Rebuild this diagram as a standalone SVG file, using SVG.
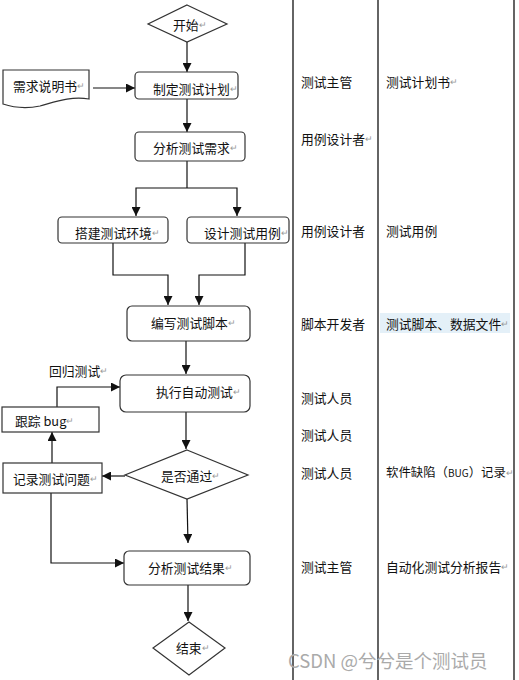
<svg xmlns="http://www.w3.org/2000/svg" width="519" height="680" viewBox="0 0 519 680">
<defs>
<marker id="ah" viewBox="0 0 10 10" refX="10" refY="5" markerWidth="9" markerHeight="9" markerUnits="userSpaceOnUse" orient="auto">
<path d="M0,0 L10,5 L0,10 Z" fill="#111"/>
</marker>
<style>
.box{fill:#fff;stroke:#333;stroke-width:1.2}
.ln{fill:none;stroke:#111;stroke-width:1.2}
.ar{fill:none;stroke:#111;stroke-width:1.2;marker-end:url(#ah)}
.col{stroke:#111;stroke-width:1.3}
text{font-family:"Noto Sans CJK SC","Noto Sans",sans-serif;font-size:12.8px;fill:#111;dominant-baseline:central}
.rm{fill:#999;font-size:9px}
.bug{font-size:12.4px}
.sm{font-size:10px}
.wm{fill:#aaa;font-size:18.5px}
</style>
</defs>
<rect width="519" height="680" fill="#fff"/>

<g id="columns">
<line class="col" x1="293" y1="0" x2="293" y2="680"/>
<line class="col" x1="378" y1="0" x2="378" y2="680"/>
<line class="col" x1="514" y1="0" x2="514" y2="680"/>
<rect x="380" y="313" width="130" height="20" fill="#e4f0f8"/>
</g>

<g id="connectors">
<line class="ar" x1="187" y1="42" x2="187" y2="72"/>
<line class="ar" x1="93" y1="88" x2="135" y2="88"/>
<line class="ar" x1="187" y1="99" x2="187" y2="132"/>
<polyline class="ln" points="187,161 187,188"/>
<polyline class="ar" points="187,188 136,188 136,216"/>
<polyline class="ar" points="187,188 237,188 237,216"/>
<polyline class="ar" points="113,243 113,275 168,275 168,305"/>
<polyline class="ar" points="245,243 245,275 199,275 199,305"/>
<line class="ar" x1="186" y1="341" x2="186" y2="374"/>
<polyline class="ar" points="57,407 57,387 120,387"/>
<line class="ar" x1="186" y1="412" x2="186" y2="449"/>
<line class="ar" x1="125" y1="476" x2="102" y2="476"/>
<line class="ar" x1="52" y1="463" x2="52" y2="432"/>
<polyline class="ar" points="51,493 51,563 124,563"/>
<line class="ar" x1="187" y1="499" x2="188" y2="543"/>
<line class="ar" x1="188" y1="585" x2="188" y2="621"/>
</g>

<g id="start">
<polygon class="box" points="187,5 227,24 187,42 148,24"/>
<text x="173" y="24">开始<tspan class="rm">↵</tspan></text>
</g>

<g id="req-doc">
<path class="box" d="M3,70 L89,70 L89,99 C70,96 55,102 40,106 C25,109 12,107 3,104 Z"/>
<text x="13" y="85">需求说明书<tspan class="rm">↵</tspan></text>
</g>

<g id="plan">
<rect class="box" x="135" y="72" width="103" height="27" rx="4"/>
<text x="153" y="88">制定测试计划<tspan class="rm">↵</tspan></text>
</g>

<g id="analyze-req">
<rect class="box" x="135" y="132" width="110" height="29" rx="4"/>
<text x="153" y="147">分析测试需求<tspan class="rm">↵</tspan></text>
</g>

<g id="env">
<rect class="box" x="58" y="217" width="110" height="26" rx="4"/>
<text x="75" y="232">搭建测试环境<tspan class="rm">↵</tspan></text>
</g>

<g id="cases">
<rect class="box" x="187" y="217" width="102" height="26" rx="4"/>
<text x="204" y="232">设计测试用例<tspan class="rm">↵</tspan></text>
</g>

<g id="script">
<rect class="box" x="127" y="306" width="123" height="35" rx="5"/>
<text x="151" y="322">编写测试脚本<tspan class="rm">↵</tspan></text>
</g>

<g id="execute">
<rect class="box" x="120" y="375" width="130" height="37" rx="6"/>
<text x="156" y="391">执行自动测试<tspan class="rm">↵</tspan></text>
</g>

<g id="regression-label">
<text x="49" y="370">回归测试<tspan class="rm">↵</tspan></text>
</g>

<g id="track-bug">
<rect class="box" x="2" y="407" width="97" height="25"/>
<text x="15" y="420">跟踪 bug<tspan class="rm">↵</tspan></text>
</g>

<g id="pass">
<polygon class="box" points="187,450 248,475 187,499 125,475"/>
<text x="161" y="475">是否通过<tspan class="rm">↵</tspan></text>
</g>

<g id="record">
<rect class="box" x="3" y="463" width="99" height="30"/>
<text x="13" y="478">记录测试问题<tspan class="rm">↵</tspan></text>
</g>

<g id="analyze-result">
<rect class="box" x="124" y="551" width="126" height="34" rx="5"/>
<text x="148" y="567">分析测试结果<tspan class="rm">↵</tspan></text>
</g>

<g id="end">
<polygon class="box" points="189,622 225,648 189,675 153,648"/>
<text x="176" y="647">结束<tspan class="rm">↵</tspan></text>
</g>

<g id="roles">
<text x="301" y="81">测试主管</text>
<text x="301" y="138">用例设计者<tspan class="rm">↵</tspan></text>
<text x="301" y="230">用例设计者</text>
<text x="301" y="323">脚本开发者</text>
<text x="301" y="397">测试人员</text>
<text x="301" y="434">测试人员</text>
<text x="301" y="472">测试人员</text>
<text x="301" y="566">测试主管</text>
</g>

<g id="outputs">
<text x="386" y="81">测试计划书<tspan class="rm">↵</tspan></text>
<text x="386" y="230">测试用例</text>
<text x="386" y="323">测试脚本、数据文件<tspan class="rm">↵</tspan></text>
<text class="bug" x="386" y="472">软件缺陷（<tspan class="sm">BUG</tspan>）记录<tspan class="rm">↵</tspan></text>
<text x="386" y="566">自动化测试分析报告<tspan class="rm">↵</tspan></text>
</g>

<g id="watermark">
<text class="wm" x="288" y="660">CSDN @兮兮是个测试员</text>
</g>
</svg>
